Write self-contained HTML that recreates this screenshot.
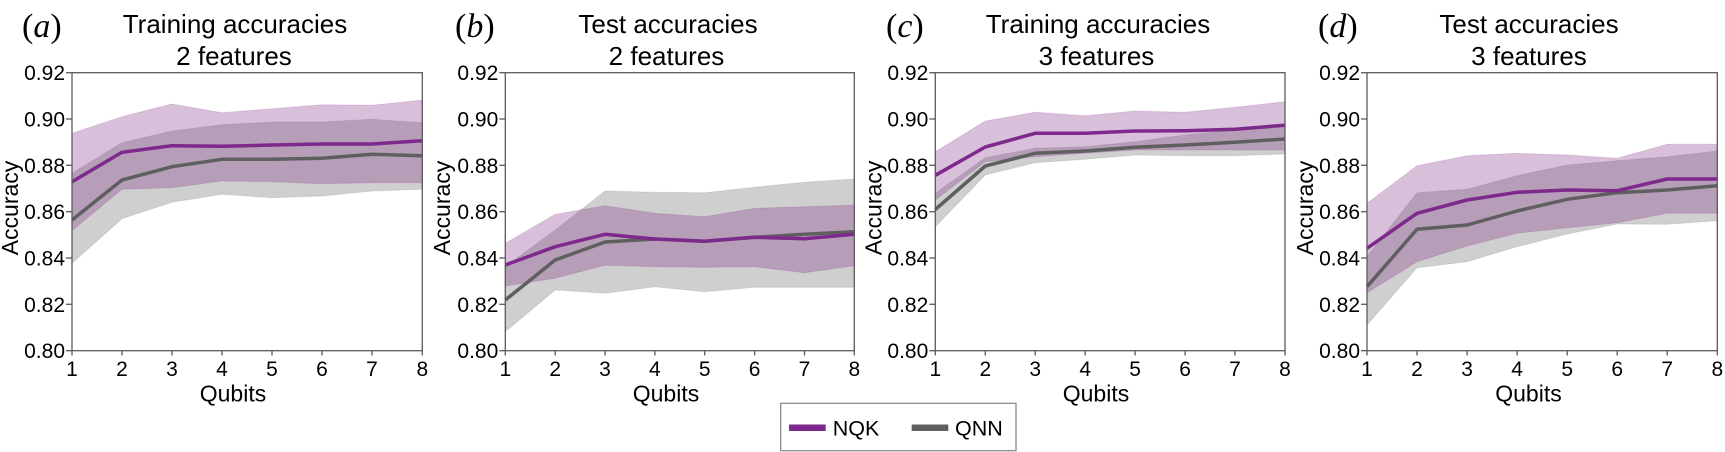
<!DOCTYPE html>
<html><head><meta charset="utf-8"><style>
html,body{margin:0;padding:0;background:#fff;}
svg{display:block;}
text{font-family:"Liberation Sans",Arial,sans-serif;fill:#000;}
.t{font-size:26px;text-anchor:middle;}
.yl{font-size:21px;text-anchor:end;}
.xl{font-size:21px;text-anchor:middle;}
.al{font-size:23px;text-anchor:middle;}
.pl{font-family:"Liberation Serif","Times New Roman",serif;font-size:34px;}
.sp{fill:none;stroke:#5a5a5a;stroke-width:1.3;}
.tk{stroke:#5a5a5a;stroke-width:1.3;}
.fq{fill:#606060;fill-opacity:0.3;stroke:#606060;stroke-opacity:0.15;stroke-width:1;}
.fn{fill:#7f2a84;fill-opacity:0.3;stroke:#7f2a84;stroke-opacity:0.15;stroke-width:1;}
.lq{fill:none;stroke:#5f5f5f;stroke-width:3.5;stroke-linejoin:round;}
.ln{fill:none;stroke:#7d2a8c;stroke-width:3.5;stroke-linejoin:round;}
</style></head><body>
<svg width="1725" height="452" viewBox="0 0 1725 452" xmlns="http://www.w3.org/2000/svg">

<!-- ================= Panel A ================= -->
<text class="pl" x="22" y="37">(<tspan font-style="italic">a</tspan>)</text>
<text class="t" x="235" y="33">Training accuracies</text>
<text class="t" x="234" y="65">2 features</text>
<polygon class="fq" points="72,173.3 122,142.7 172,131 222,124.7 272,122 322,122 372,119.3 422.3,122.7 422.3,189.3 372,191 322,196 272,197.7 222,194.3 172,202.3 122,218.7 72,263.3"/>
<polygon class="fn" points="72,133.3 122,116.7 172,104 222,112.7 272,108.7 322,104.7 372,105.3 422.3,100 422.3,182.7 372,182.7 322,183.7 272,181.7 222,181 172,187.7 122,189.3 72,230.7"/>
<polyline class="lq" points="72,220 122,180 172,166.7 222,159.3 272,159.3 322,158.3 372,154.3 422.3,155.7"/>
<polyline class="ln" points="72,181.7 122,152.3 172,145.7 222,146.3 272,145 322,144 372,144 422.3,140.7"/>
<rect class="sp" x="72" y="72.7" width="350.3" height="278"/>
<g class="tk">
<line x1="66" y1="72.7" x2="72" y2="72.7"/><line x1="66" y1="119" x2="72" y2="119"/><line x1="66" y1="165.3" x2="72" y2="165.3"/><line x1="66" y1="211.7" x2="72" y2="211.7"/><line x1="66" y1="258" x2="72" y2="258"/><line x1="66" y1="304.3" x2="72" y2="304.3"/><line x1="66" y1="350.7" x2="72" y2="350.7"/>
<line x1="72" y1="350.7" x2="72" y2="355.5"/><line x1="122" y1="350.7" x2="122" y2="355.5"/><line x1="172" y1="350.7" x2="172" y2="355.5"/><line x1="222" y1="350.7" x2="222" y2="355.5"/><line x1="272" y1="350.7" x2="272" y2="355.5"/><line x1="322" y1="350.7" x2="322" y2="355.5"/><line x1="372" y1="350.7" x2="372" y2="355.5"/><line x1="422.3" y1="350.7" x2="422.3" y2="355.5"/>
</g>
<text class="yl" x="65" y="80.2">0.92</text><text class="yl" x="65" y="126.5">0.90</text><text class="yl" x="65" y="172.8">0.88</text><text class="yl" x="65" y="219.2">0.86</text><text class="yl" x="65" y="265.5">0.84</text><text class="yl" x="65" y="311.8">0.82</text><text class="yl" x="65" y="358.2">0.80</text>
<text class="xl" x="72" y="376">1</text><text class="xl" x="122" y="376">2</text><text class="xl" x="172" y="376">3</text><text class="xl" x="222" y="376">4</text><text class="xl" x="272" y="376">5</text><text class="xl" x="322" y="376">6</text><text class="xl" x="372" y="376">7</text><text class="xl" x="422.3" y="376">8</text>
<text class="al" x="233" y="401.5">Qubits</text>
<text class="al" transform="translate(18.2,208) rotate(-90)">Accuracy</text>

<!-- ================= Panel B ================= -->
<text class="pl" x="455" y="37">(<tspan font-style="italic">b</tspan>)</text>
<text class="t" x="668" y="33">Test accuracies</text>
<text class="t" x="666.5" y="65">2 features</text>
<polygon class="fq" points="505.3,266.7 555.2,230 605,191 654.9,192.3 704.7,192.7 754.6,187.3 804.5,182.3 854.3,179 854.3,287.3 804.5,287.3 754.6,287.3 704.7,291.7 654.9,286.7 605,293.3 555.2,290 505.3,331.7"/>
<polygon class="fn" points="505.3,243.3 555.2,214.3 605,205.7 654.9,213.3 704.7,216.7 754.6,208.3 804.5,206.7 854.3,205 854.3,265.7 804.5,272.7 754.6,266.7 704.7,267.3 654.9,266.7 605,265.3 555.2,278.3 505.3,286"/>
<polyline class="lq" points="505.3,300 555.2,260 605,242 654.9,239 704.7,241.3 754.6,237.3 804.5,234.3 854.3,231.7"/>
<polyline class="ln" points="505.3,265 555.2,246.7 605,234.3 654.9,239 704.7,241.3 754.6,237.3 804.5,238.7 854.3,234.3"/>
<rect class="sp" x="505.3" y="72.7" width="349" height="278"/>
<g class="tk">
<line x1="499.3" y1="72.7" x2="505.3" y2="72.7"/><line x1="499.3" y1="119" x2="505.3" y2="119"/><line x1="499.3" y1="165.3" x2="505.3" y2="165.3"/><line x1="499.3" y1="211.7" x2="505.3" y2="211.7"/><line x1="499.3" y1="258" x2="505.3" y2="258"/><line x1="499.3" y1="304.3" x2="505.3" y2="304.3"/><line x1="499.3" y1="350.7" x2="505.3" y2="350.7"/>
<line x1="505.3" y1="350.7" x2="505.3" y2="355.5"/><line x1="555.2" y1="350.7" x2="555.2" y2="355.5"/><line x1="605" y1="350.7" x2="605" y2="355.5"/><line x1="654.9" y1="350.7" x2="654.9" y2="355.5"/><line x1="704.7" y1="350.7" x2="704.7" y2="355.5"/><line x1="754.6" y1="350.7" x2="754.6" y2="355.5"/><line x1="804.5" y1="350.7" x2="804.5" y2="355.5"/><line x1="854.3" y1="350.7" x2="854.3" y2="355.5"/>
</g>
<text class="yl" x="498.3" y="80.2">0.92</text><text class="yl" x="498.3" y="126.5">0.90</text><text class="yl" x="498.3" y="172.8">0.88</text><text class="yl" x="498.3" y="219.2">0.86</text><text class="yl" x="498.3" y="265.5">0.84</text><text class="yl" x="498.3" y="311.8">0.82</text><text class="yl" x="498.3" y="358.2">0.80</text>
<text class="xl" x="505.3" y="376">1</text><text class="xl" x="555.2" y="376">2</text><text class="xl" x="605" y="376">3</text><text class="xl" x="654.9" y="376">4</text><text class="xl" x="704.7" y="376">5</text><text class="xl" x="754.6" y="376">6</text><text class="xl" x="804.5" y="376">7</text><text class="xl" x="854.3" y="376">8</text>
<text class="al" x="666" y="401.5">Qubits</text>
<text class="al" transform="translate(450,208) rotate(-90)">Accuracy</text>

<!-- ================= Panel C ================= -->
<text class="pl" x="886" y="37">(<tspan font-style="italic">c</tspan>)</text>
<text class="t" x="1098" y="33">Training accuracies</text>
<text class="t" x="1096.5" y="65">3 features</text>
<polygon class="fq" points="935.3,193.3 985.3,157.7 1035.2,148.3 1085.2,146.7 1135.1,141.7 1185.1,135 1235,130 1285,127.3 1285,154 1235,155.7 1185.1,155.7 1135.1,155 1085.2,159.3 1035.2,162.7 985.3,175 935.3,226.7"/>
<polygon class="fn" points="935.3,151.7 985.3,121 1035.2,112.3 1085.2,115.7 1135.1,111 1185.1,112.3 1235,107.3 1285,101.7 1285,150 1235,150 1185.1,150 1135.1,150 1085.2,153.3 1035.2,156.7 985.3,161.7 935.3,200"/>
<polyline class="lq" points="935.3,209.5 985.3,166 1035.2,153.3 1085.2,151 1135.1,147.3 1185.1,145 1235,142.3 1285,139"/>
<polyline class="ln" points="935.3,175.3 985.3,147 1035.2,133.3 1085.2,133.3 1135.1,131 1185.1,130.7 1235,129.3 1285,125.2"/>
<rect class="sp" x="935.3" y="72.7" width="349.7" height="278"/>
<g class="tk">
<line x1="929.3" y1="72.7" x2="935.3" y2="72.7"/><line x1="929.3" y1="119" x2="935.3" y2="119"/><line x1="929.3" y1="165.3" x2="935.3" y2="165.3"/><line x1="929.3" y1="211.7" x2="935.3" y2="211.7"/><line x1="929.3" y1="258" x2="935.3" y2="258"/><line x1="929.3" y1="304.3" x2="935.3" y2="304.3"/><line x1="929.3" y1="350.7" x2="935.3" y2="350.7"/>
<line x1="935.3" y1="350.7" x2="935.3" y2="355.5"/><line x1="985.3" y1="350.7" x2="985.3" y2="355.5"/><line x1="1035.2" y1="350.7" x2="1035.2" y2="355.5"/><line x1="1085.2" y1="350.7" x2="1085.2" y2="355.5"/><line x1="1135.1" y1="350.7" x2="1135.1" y2="355.5"/><line x1="1185.1" y1="350.7" x2="1185.1" y2="355.5"/><line x1="1235" y1="350.7" x2="1235" y2="355.5"/><line x1="1285" y1="350.7" x2="1285" y2="355.5"/>
</g>
<text class="yl" x="928.3" y="80.2">0.92</text><text class="yl" x="928.3" y="126.5">0.90</text><text class="yl" x="928.3" y="172.8">0.88</text><text class="yl" x="928.3" y="219.2">0.86</text><text class="yl" x="928.3" y="265.5">0.84</text><text class="yl" x="928.3" y="311.8">0.82</text><text class="yl" x="928.3" y="358.2">0.80</text>
<text class="xl" x="935.3" y="376">1</text><text class="xl" x="985.3" y="376">2</text><text class="xl" x="1035.2" y="376">3</text><text class="xl" x="1085.2" y="376">4</text><text class="xl" x="1135.1" y="376">5</text><text class="xl" x="1185.1" y="376">6</text><text class="xl" x="1235" y="376">7</text><text class="xl" x="1285" y="376">8</text>
<text class="al" x="1096" y="401.5">Qubits</text>
<text class="al" transform="translate(881.5,208) rotate(-90)">Accuracy</text>

<!-- ================= Panel D ================= -->
<text class="pl" x="1318" y="37">(<tspan font-style="italic">d</tspan>)</text>
<text class="t" x="1529" y="33">Test accuracies</text>
<text class="t" x="1529" y="65">3 features</text>
<polygon class="fq" points="1367,256.7 1417,192.7 1467.1,189.3 1517.1,175.7 1567.2,165 1617.2,160.7 1667.2,156.7 1717.3,151 1717.3,220.7 1667.2,224.3 1617.2,224 1567.2,234 1517.1,246.7 1467.1,261.7 1417,267.7 1367,325"/>
<polygon class="fn" points="1367,203.3 1417,165.7 1467.1,155.7 1517.1,153.3 1567.2,155 1617.2,158.3 1667.2,144.3 1717.3,144.3 1717.3,213.3 1667.2,213.3 1617.2,222.7 1567.2,227.7 1517.1,233.3 1467.1,246 1417,261.7 1367,292.7"/>
<polyline class="lq" points="1367,286.7 1417,229.3 1467.1,225 1517.1,211 1567.2,199.3 1617.2,192.7 1667.2,190 1717.3,185.7"/>
<polyline class="ln" points="1367,248.3 1417,213.3 1467.1,200 1517.1,192.3 1567.2,190 1617.2,190.7 1667.2,179 1717.3,179"/>
<rect class="sp" x="1367" y="72.7" width="350.3" height="278"/>
<g class="tk">
<line x1="1361" y1="72.7" x2="1367" y2="72.7"/><line x1="1361" y1="119" x2="1367" y2="119"/><line x1="1361" y1="165.3" x2="1367" y2="165.3"/><line x1="1361" y1="211.7" x2="1367" y2="211.7"/><line x1="1361" y1="258" x2="1367" y2="258"/><line x1="1361" y1="304.3" x2="1367" y2="304.3"/><line x1="1361" y1="350.7" x2="1367" y2="350.7"/>
<line x1="1367" y1="350.7" x2="1367" y2="355.5"/><line x1="1417" y1="350.7" x2="1417" y2="355.5"/><line x1="1467.1" y1="350.7" x2="1467.1" y2="355.5"/><line x1="1517.1" y1="350.7" x2="1517.1" y2="355.5"/><line x1="1567.2" y1="350.7" x2="1567.2" y2="355.5"/><line x1="1617.2" y1="350.7" x2="1617.2" y2="355.5"/><line x1="1667.2" y1="350.7" x2="1667.2" y2="355.5"/><line x1="1717.3" y1="350.7" x2="1717.3" y2="355.5"/>
</g>
<text class="yl" x="1360" y="80.2">0.92</text><text class="yl" x="1360" y="126.5">0.90</text><text class="yl" x="1360" y="172.8">0.88</text><text class="yl" x="1360" y="219.2">0.86</text><text class="yl" x="1360" y="265.5">0.84</text><text class="yl" x="1360" y="311.8">0.82</text><text class="yl" x="1360" y="358.2">0.80</text>
<text class="xl" x="1367" y="376">1</text><text class="xl" x="1417" y="376">2</text><text class="xl" x="1467.1" y="376">3</text><text class="xl" x="1517.1" y="376">4</text><text class="xl" x="1567.2" y="376">5</text><text class="xl" x="1617.2" y="376">6</text><text class="xl" x="1667.2" y="376">7</text><text class="xl" x="1717.3" y="376">8</text>
<text class="al" x="1528.5" y="401.5">Qubits</text>
<text class="al" transform="translate(1313,208) rotate(-90)">Accuracy</text>

<!-- ================= Legend ================= -->
<rect x="780.7" y="403.3" width="235.3" height="47.4" fill="#fff" stroke="#8a8a8a" stroke-width="1.3"/>
<line x1="789" y1="427.7" x2="825.7" y2="427.7" stroke="#7d2a8c" stroke-width="6.5"/>
<text x="832.7" y="435.7" style="font-size:21.5px">NQK</text>
<line x1="911.7" y1="427.7" x2="948.3" y2="427.7" stroke="#5f5f5f" stroke-width="6.5"/>
<text x="955" y="435.7" style="font-size:21.5px">QNN</text>
</svg>
</body></html>
